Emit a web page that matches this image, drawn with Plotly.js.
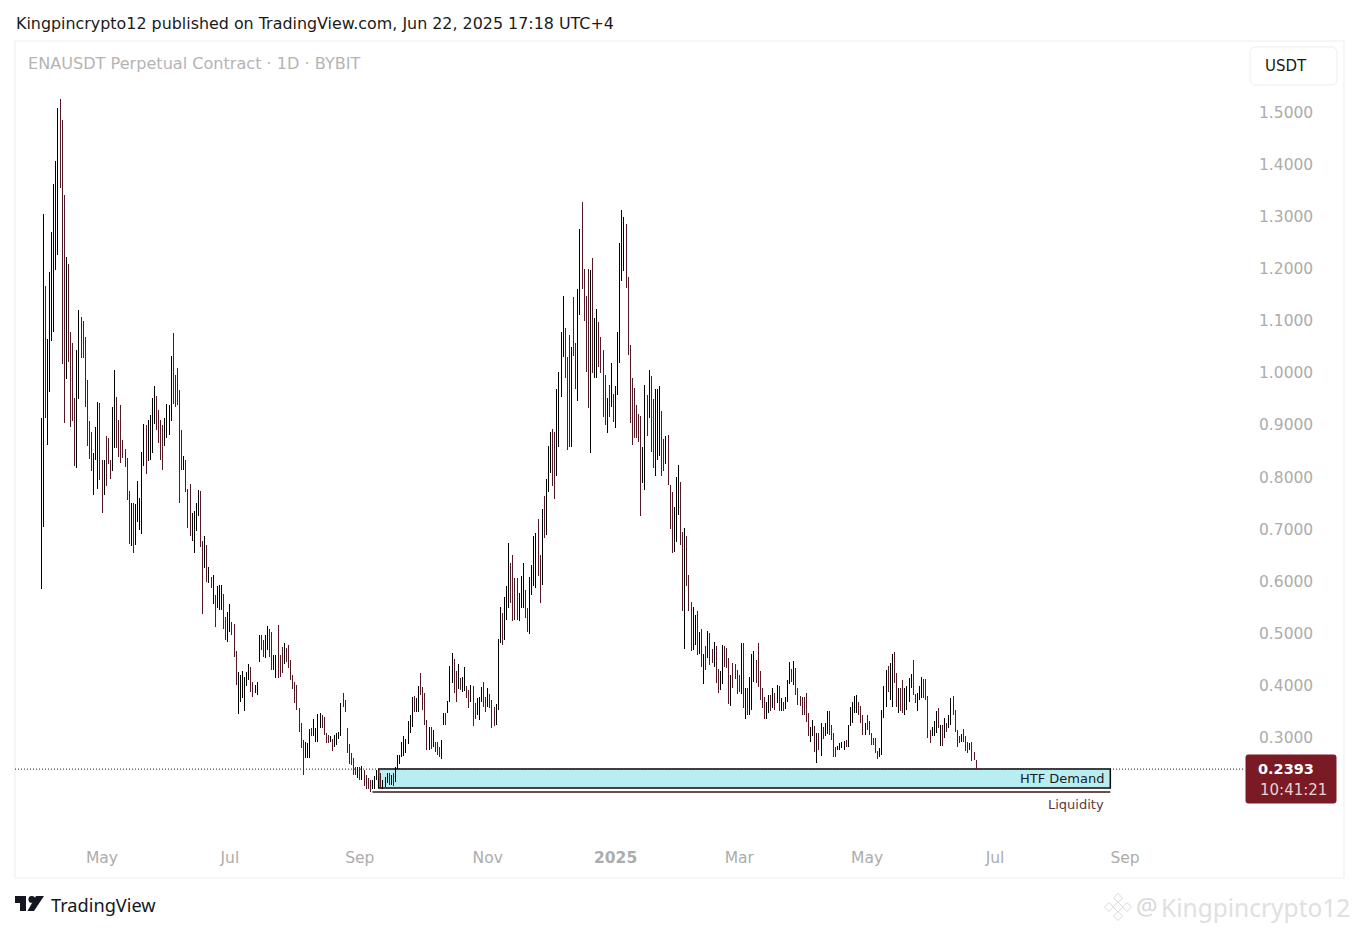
<!DOCTYPE html>
<html>
<head>
<meta charset="utf-8">
<script src="https://cdn.plot.ly/plotly-3.0.1.min.js"></script>
<style>html,body{margin:0;padding:0;background:#fff}#chart{width:1359px;height:931px}
.ohlc path{shape-rendering:crispEdges !important}</style>
</head>
<body>
<div id="chart"></div>
<script>
var firstBarDate = '2024-04-02';
var barHigh = [
.913,1.306,1.167,1.066,1.194,1.271,1.363,1.407,1.509,1.526,
1.485,1.341,1.223,1.209,1.079,1.057,.951,1.044,1.121,1.107,
1.100,1.070,.986,.907,.886,.846,.897,.944,.942,.832,
.833,.879,.876,.833,.935,1.006,.953,.910,.938,.871,
.854,.837,.773,.750,.750,.748,.793,.759,.849,.902,
.900,.910,.919,.951,.974,.956,.929,.910,.900,.913,
.940,.938,1.033,1.077,.996,1.010,.967,.890,.840,.832,
.778,.787,.732,.735,.750,.775,.773,.678,.686,
.669,.627,.609,.612,.574,.591,.593,.593,.575,.532,
.541,.556,.521,.518,.467,.426,.420,.428,.417,.426,
.442,.436,.407,.401,.407,.497,.497,.487,.497,.514,
.509,.503,.458,.458,.517,.458,.474,.481,.471,.478,
.449,.420,.407,.401,.356,.327,.295,.292,.289,.316,
.318,.335,.318,.346,.348,.343,.340,.309,.304,.302,
.298,.304,.308,.311,.366,.385,.372,.319,.287,.270,
.260,.244,.244,.244,.245,.237,.228,.222,.218,
.218,.226,.237,.237,.231,.218,.224,.231,.231,.228,.231,.244,
.266,.266,.292,.303,.298,.332,.343,.378,.379,.375,.398,.424,.397,.385,.333,.320,.320,
.314,.292,.292,.282,.295,.348,.348,.370,.437,.463,.450,.428,.441,.415,.416,.436,
.398,.391,.401,.398,.366,.375,.378,.397,.407,.378,.396,.383,.372,.359,.364,.490,
.551,.540,.569,.590,.674,.636,.651,.607,.606,.577,
.610,.636,.583,.548,.609,.631,.687,.692,.719,.651,
.739,.764,.796,.860,.887,.892,.887,.970,1.002,1.079,
1.148,1.086,1.030,1.072,1.049,1.145,1.058,1.162,1.276,1.329,
1.200,1.148,1.200,1.198,1.221,1.105,1.123,1.097,1.070,1.044,
.996,.951,.976,1.020,.960,.974,1.079,1.250,1.313,1.299,
1.286,1.184,1.053,.990,.972,.939,.921,.917,.858,.976,
.957,1.006,.994,.950,.970,.969,.974,.927,.873,.879,
.881,.785,.772,.743,.801,.823,.791,
.695,.703,.687,.612,.561,.551,.535,.542,.503,.508,
.461,.476,.505,.500,.469,.484,.475,.432,.427,.478,
.476,.471,.453,.420,.443,.441,.430,.420,.481,.481,
.395,.395,.417,.461,.467,.449,.481,.428,.395,.377,
.369,.382,.382,.395,.385,.401,.399,.375,.369,.377,
.411,.445,.432,.447,.433,.395,.379,.377,.377,.385,
.347,.321,.334,.323,.308,.308,.327,.321,.327,.351,
.350,.324,.308,.281,.283,.290,.292,.293,.295,.324,
.359,.369,.379,.382,.369,.361,.343,.327,.343,.331,
.308,.299,.300,.275,.279,.353,.398,.429,.437,.443,
.460,.465,.423,.395,.395,.411,.395,.398,.414,.422,
.449,.384,.385,.398,.417,.412,.412,.379,.315,.321,
.331,.350,.356,.324,.324,.337,.327,.343,.375,.380,
.353,.315,.303,.307,.316,.302,.292,.289,.292,.273,.257
];
var barLow = [
.585,.705,.913,.861,.964,1.062,1.079,1.197,1.226,1.355,
1.018,.903,.988,1.022,.897,.907,.821,.817,.950,1.028,
1.028,.935,.860,.834,.811,.765,.833,.777,.795,.732,
.766,.783,.825,.797,.812,.855,.855,.839,.827,.836,
.820,.756,.672,.668,.655,.670,.713,.699,.691,.822,
.806,.830,.832,.847,.902,.890,.865,.833,.814,.860,
.875,.881,.907,.940,.935,.938,.751,.814,.814,.771,
.703,.686,.678,.655,.697,.725,.665,.537,.625,
.599,.596,.588,.557,.513,.548,.544,.544,.509,.488,
.483,.503,.497,.455,.401,.346,.369,.375,.351,.398,
.410,.388,.377,.385,.381,.445,.468,.455,.452,.468,
.455,.429,.429,.414,.414,.417,.424,.442,.445,.433,
.410,.394,.366,.353,.311,.279,.228,.260,.260,.260,
.302,.302,.292,.292,.318,.318,.304,.289,.289,.292,
.275,.282,.285,.298,.302,.359,.349,.270,.250,.247,
.228,.228,.222,.218,.218,.207,.202,.202,.195,
.202,.202,.218,.224,.202,.202,.205,.212,.208,.208,.207,.215,
.240,.250,.263,.264,.270,.288,.308,.320,.349,.349,.349,.381,.353,.324,.276,.276,.277,
.282,.272,.266,.263,.258,.324,.324,.348,.368,.404,.385,.368,.394,.391,.388,.390,
.375,.356,.368,.322,.336,.343,.333,.368,.359,.349,.359,.356,.318,.322,.324,.353,
.481,.478,.487,.526,.548,.558,.523,.526,.526,.524,
.548,.549,.529,.503,.499,.574,.590,.588,.610,.558,
.592,.684,.689,.772,.807,.783,.758,.802,.857,.954,
1.030,.990,.853,.857,.857,1.033,.970,.946,1.111,1.162,
1.099,1.002,.932,.846,1.000,.991,.991,1.012,1.000,.916,
.900,.884,.916,.935,.906,.895,.958,1.020,1.177,1.196,
1.164,1.034,.903,.862,.875,.875,.868,.725,.789,.775,
.878,.913,.849,.817,.802,.832,.840,.803,.811,.826,
.785,.700,.654,.657,.676,.727,.670,
.543,.469,.591,.542,.467,.468,.478,.459,.461,.435,
.403,.429,.452,.439,.443,.436,.404,.385,.391,.403,
.435,.433,.364,.361,.395,.412,.384,.388,.384,.357,
.336,.343,.343,.353,.407,.404,.397,.372,.356,.335,
.335,.348,.350,.356,.353,.367,.350,.350,.350,.355,
.369,.402,.407,.401,.382,.363,.361,.343,.343,.329,
.302,.292,.302,.273,.252,.276,.265,.297,.302,.307,
.305,.295,.263,.263,.276,.276,.279,.276,.281,.281,
.323,.327,.347,.347,.343,.327,.305,.305,.315,.305,
.286,.286,.270,.258,.263,.267,.337,.359,.388,.372,
.359,.404,.359,.347,.350,.348,.343,.353,.369,.395,
.382,.366,.350,.372,.375,.375,.372,.299,.290,.302,
.302,.308,.318,.284,.284,.299,.311,.318,.324,.343,
.311,.281,.289,.292,.292,.275,.270,.276,.254,.257,.2393
];
var barDirection = [
1,1,-1,1,1,1,1,1,1,-1,
-1,-1,1,-1,-1,-1,-1,1,1,-1,
-1,-1,-1,-1,-1,1,1,1,-1,-1,
1,-1,-1,-1,1,1,-1,-1,-1,-1,
-1,-1,-1,1,-1,1,1,1,1,1,
-1,1,1,1,1,-1,-1,-1,-1,1,
1,1,1,-1,-1,-1,-1,-1,1,-1,
-1,-1,1,1,1,1,-1,-1,1,
-1,1,-1,1,-1,1,1,1,-1,-1,
1,1,-1,-1,-1,1,1,1,1,1,
1,-1,-1,1,1,1,-1,-1,1,1,
-1,-1,1,1,-1,-1,-1,1,-1,-1,
-1,-1,-1,-1,-1,-1,-1,1,1,1,
-1,1,1,1,1,-1,-1,-1,-1,1,
-1,1,1,1,1,-1,-1,-1,-1,-1,
-1,-1,1,-1,1,-1,-1,-1,-1,
1,1,1,-1,-1,1,1,1,-1,1,-1,1,
1,1,1,1,1,1,1,1,-1,1,1,-1,-1,-1,-1,1,-1,
1,-1,-1,-1,1,1,-1,1,1,1,-1,-1,1,-1,1,1,
-1,-1,1,-1,-1,1,1,1,-1,-1,1,-1,-1,-1,1,1,
1,-1,1,1,1,-1,-1,-1,-1,1,
1,1,-1,-1,1,1,1,1,-1,-1,
1,-1,1,1,1,-1,-1,1,1,1,
1,-1,-1,-1,1,-1,-1,1,1,-1,
-1,-1,-1,1,-1,1,1,-1,-1,-1,
-1,1,-1,1,-1,1,1,1,1,1,
-1,-1,-1,-1,-1,-1,-1,-1,1,1,
-1,1,-1,-1,1,1,1,-1,-1,1,
-1,-1,-1,1,1,1,-1,
-1,1,-1,-1,-1,1,1,-1,1,-1,
1,-1,1,-1,-1,1,-1,-1,1,1,
-1,-1,-1,1,-1,-1,-1,-1,1,-1,
1,-1,1,1,1,-1,-1,-1,-1,-1,
1,1,-1,1,-1,1,-1,1,-1,1,
1,1,-1,1,-1,-1,-1,-1,-1,-1,
-1,1,1,-1,1,-1,1,-1,1,1,
-1,-1,-1,-1,1,1,1,1,-1,1,
1,1,1,1,-1,-1,-1,1,-1,-1,
-1,-1,-1,-1,1,1,1,1,-1,1,
1,-1,-1,1,-1,-1,1,1,1,1,
-1,-1,1,1,1,-1,-1,-1,-1,1,
1,1,-1,1,-1,1,-1,1,1,-1,
-1,-1,-1,1,-1,-1,-1,1,-1,-1,-1
];
var priceTicks = [0.3,0.4,0.5,0.6,0.7,0.8,0.9,1.0,1.1,1.2,1.3,1.4,1.5];
var monthTicks = ['2024-05-01','2024-07-01','2024-09-01','2024-11-01','2025-01-01','2025-03-01','2025-05-01','2025-07-01','2025-09-01'];
var monthLabels = ['May','Jul','Sep','Nov','<b>2025</b>','Mar','May','Jul','Sep'];
var lastPrice = 0.2393;
var demandTop = 0.2395, demandBottom = 0.2030, liquidityLevel = 0.1954;
var demandStart = '2024-09-10', zoneEnd = '2025-08-25', liquidityStart = '2024-09-07';

// open and close are not visible in the reference: each bar is only a high-low line in its up/down colour
var dates = [], opens = [], closes = [];
var d0 = Date.parse(firstBarDate + 'T00:00:00Z');
barHigh.forEach(function (h, i) {
  dates.push(new Date(d0 + i * 864e5).toISOString().slice(0, 10));
  opens.push(barDirection[i] > 0 ? barLow[i] : h);
  closes.push(barDirection[i] > 0 ? h : barLow[i]);
});

var L = 15, R = 1245, T = 41, B = 840;
function px(x) { return (x - L) / (R - L); }
function py(y) { return (B - y) / (B - T); }
var FONT = '"DejaVu Sans", sans-serif';
var BRAND = '"Noto Sans", sans-serif';
function label(text, x, y, size, color, anchor, family) {
  return {text: text, xref: 'paper', yref: 'paper', x: px(x), y: py(y), xanchor: anchor || 'left',
    yanchor: 'middle', showarrow: false, font: {family: family || FONT, size: size, color: color}, borderpad: 0};
}
function poly(points, fill, line) {
  var p = points.map(function (q, i) { return (i ? 'L' : 'M') + px(q[0]) + ',' + py(q[1]); }).join(' ') + ' Z';
  return {type: 'path', xref: 'paper', yref: 'paper', path: p, fillcolor: fill, line: {color: line || fill, width: line ? 1 : 0}};
}
function circle(cx, cy, r, fill) {
  return {type: 'circle', xref: 'paper', yref: 'paper', x0: px(cx - r), x1: px(cx + r), y0: py(cy + r), y1: py(cy - r),
    fillcolor: fill, line: {color: fill, width: 0}};
}
function diamond(cx, cy, r, line) {
  return poly([[cx, cy - r], [cx + r, cy], [cx, cy + r], [cx - r, cy]], 'rgba(255,255,255,0)', line);
}
function rounded(x0, y0, x1, y1, r, fill, line) {
  var f = function (x, y) { return px(x) + ',' + py(y); };
  return {type: 'path', xref: 'paper', yref: 'paper', fillcolor: fill, line: {color: line || fill, width: 1},
    path: 'M' + f(x0 + r, y0) + ' L' + f(x1 - r, y0) + ' Q' + f(x1, y0) + ' ' + f(x1, y0 + r) +
      ' L' + f(x1, y1 - r) + ' Q' + f(x1, y1) + ' ' + f(x1 - r, y1) +
      ' L' + f(x0 + r, y1) + ' Q' + f(x0, y1) + ' ' + f(x0, y1 - r) +
      ' L' + f(x0, y0 + r) + ' Q' + f(x0, y0) + ' ' + f(x0 + r, y0) + ' Z'};
}

var trace = {
  type: 'ohlc', x: dates, open: opens, high: barHigh, low: barLow, close: closes, tickwidth: 0,
  increasing: {line: {color: '#000000', width: 1}},
  decreasing: {line: {color: '#541824', width: 1}},
  hoverinfo: 'skip', showlegend: false
};

var wm = '#d8d8d8';
var shapes = [
  {type: 'rect', xref: 'paper', yref: 'paper', x0: px(15), x1: px(1344), y0: py(878), y1: py(41), line: {color: '#ededed', width: 1}, layer: 'below'},
  {type: 'rect', xref: 'x', yref: 'y', x0: demandStart, x1: zoneEnd, y0: demandBottom, y1: demandTop, fillcolor: '#b8edf2', line: {color: '#0a0a0a', width: 1.5}, layer: 'below'},
  {type: 'line', xref: 'x', yref: 'y', x0: liquidityStart, x1: zoneEnd, y0: liquidityLevel, y1: liquidityLevel, line: {color: '#3a1018', width: 1.5}},
  {type: 'line', xref: 'paper', yref: 'y', x0: 0, x1: 1, y0: lastPrice, y1: lastPrice, line: {color: '#222222', width: 1, dash: '1px,2px'}, layer: 'below'},
  rounded(1250, 47, 1337, 85, 6, '#ffffff', '#eeeeee'),
  rounded(1246, 755, 1336, 803, 2, '#7a1a24'),
  poly([[15, 896], [26, 896], [26, 911], [20, 911], [20, 903], [15, 903]], '#131722'),
  circle(31.8, 899.4, 3.4, '#131722'),
  poly([[36, 896], [44, 896], [34, 911], [27.5, 911]], '#131722'),
  diamond(1118, 907, 5, wm), diamond(1118, 898, 4.5, wm), diamond(1118, 916, 4.5, wm),
  diamond(1109, 907, 4.5, wm), diamond(1127, 907, 4.5, wm)
];

var annotations = [
  label('Kingpincrypto12 published on TradingView.com, Jun 22, 2025 17:18 UTC+4', 15, 23, 15.9, '#1a1a1a'),
  label('ENAUSDT Perpetual Contract · 1D · BYBIT', 27, 64, 16.1, '#b4b4b4'),
  label('USDT', 1285.5, 66, 15, '#1a1a1a', 'center'),
  label('<b>0.2393</b>', 1286, 769, 14.5, '#ffffff', 'center'),
  label('10:41:21', 1293.5, 790, 15, '#e6d3d3', 'center'),
  label('HTF Demand', 1105, 778, 13, '#1c1c1c', 'right'),
  label('Liquidity', 1105, 804, 13, '#5a3a42', 'right'),
  label('TradingView', 50, 905, 18.2, '#131722', 'left', BRAND),
  label('@', 1147, 905, 24, '#d8d8d8', 'center', BRAND),
  label('Kingpincrypto12', 1160, 907, 24.5, '#e0e0e0', 'left', BRAND)
];

var layout = {
  width: 1359, height: 931, paper_bgcolor: '#ffffff', plot_bgcolor: 'rgba(0,0,0,0)',
  margin: {l: L, r: 1359 - R, t: T, b: 931 - B, pad: 0},
  showlegend: false, dragmode: false,
  font: {family: FONT},
  xaxis: {
    type: 'date', range: ['2024-03-20 12:00', '2025-10-28 06:00'], rangeslider: {visible: false},
    tickmode: 'array', tickvals: monthTicks, ticktext: monthLabels, ticks: '', showgrid: false, zeroline: false, showline: false,
    ticklabelstandoff: 6, tickfont: {family: FONT, size: 15.5, color: '#acacac'}, fixedrange: true
  },
  yaxis: {
    side: 'right', range: [0.1032, 1.6374], tickmode: 'array', tickvals: priceTicks, tickformat: '.4f', ticks: '',
    showgrid: false, zeroline: false, showline: false, ticklabelstandoff: 13,
    tickfont: {family: FONT, size: 15.5, color: '#acacac'}, fixedrange: true
  },
  shapes: shapes, annotations: annotations
};
Plotly.newPlot('chart', [trace], layout, {displayModeBar: false, staticPlot: true, responsive: false});
</script>
</body>
</html>
